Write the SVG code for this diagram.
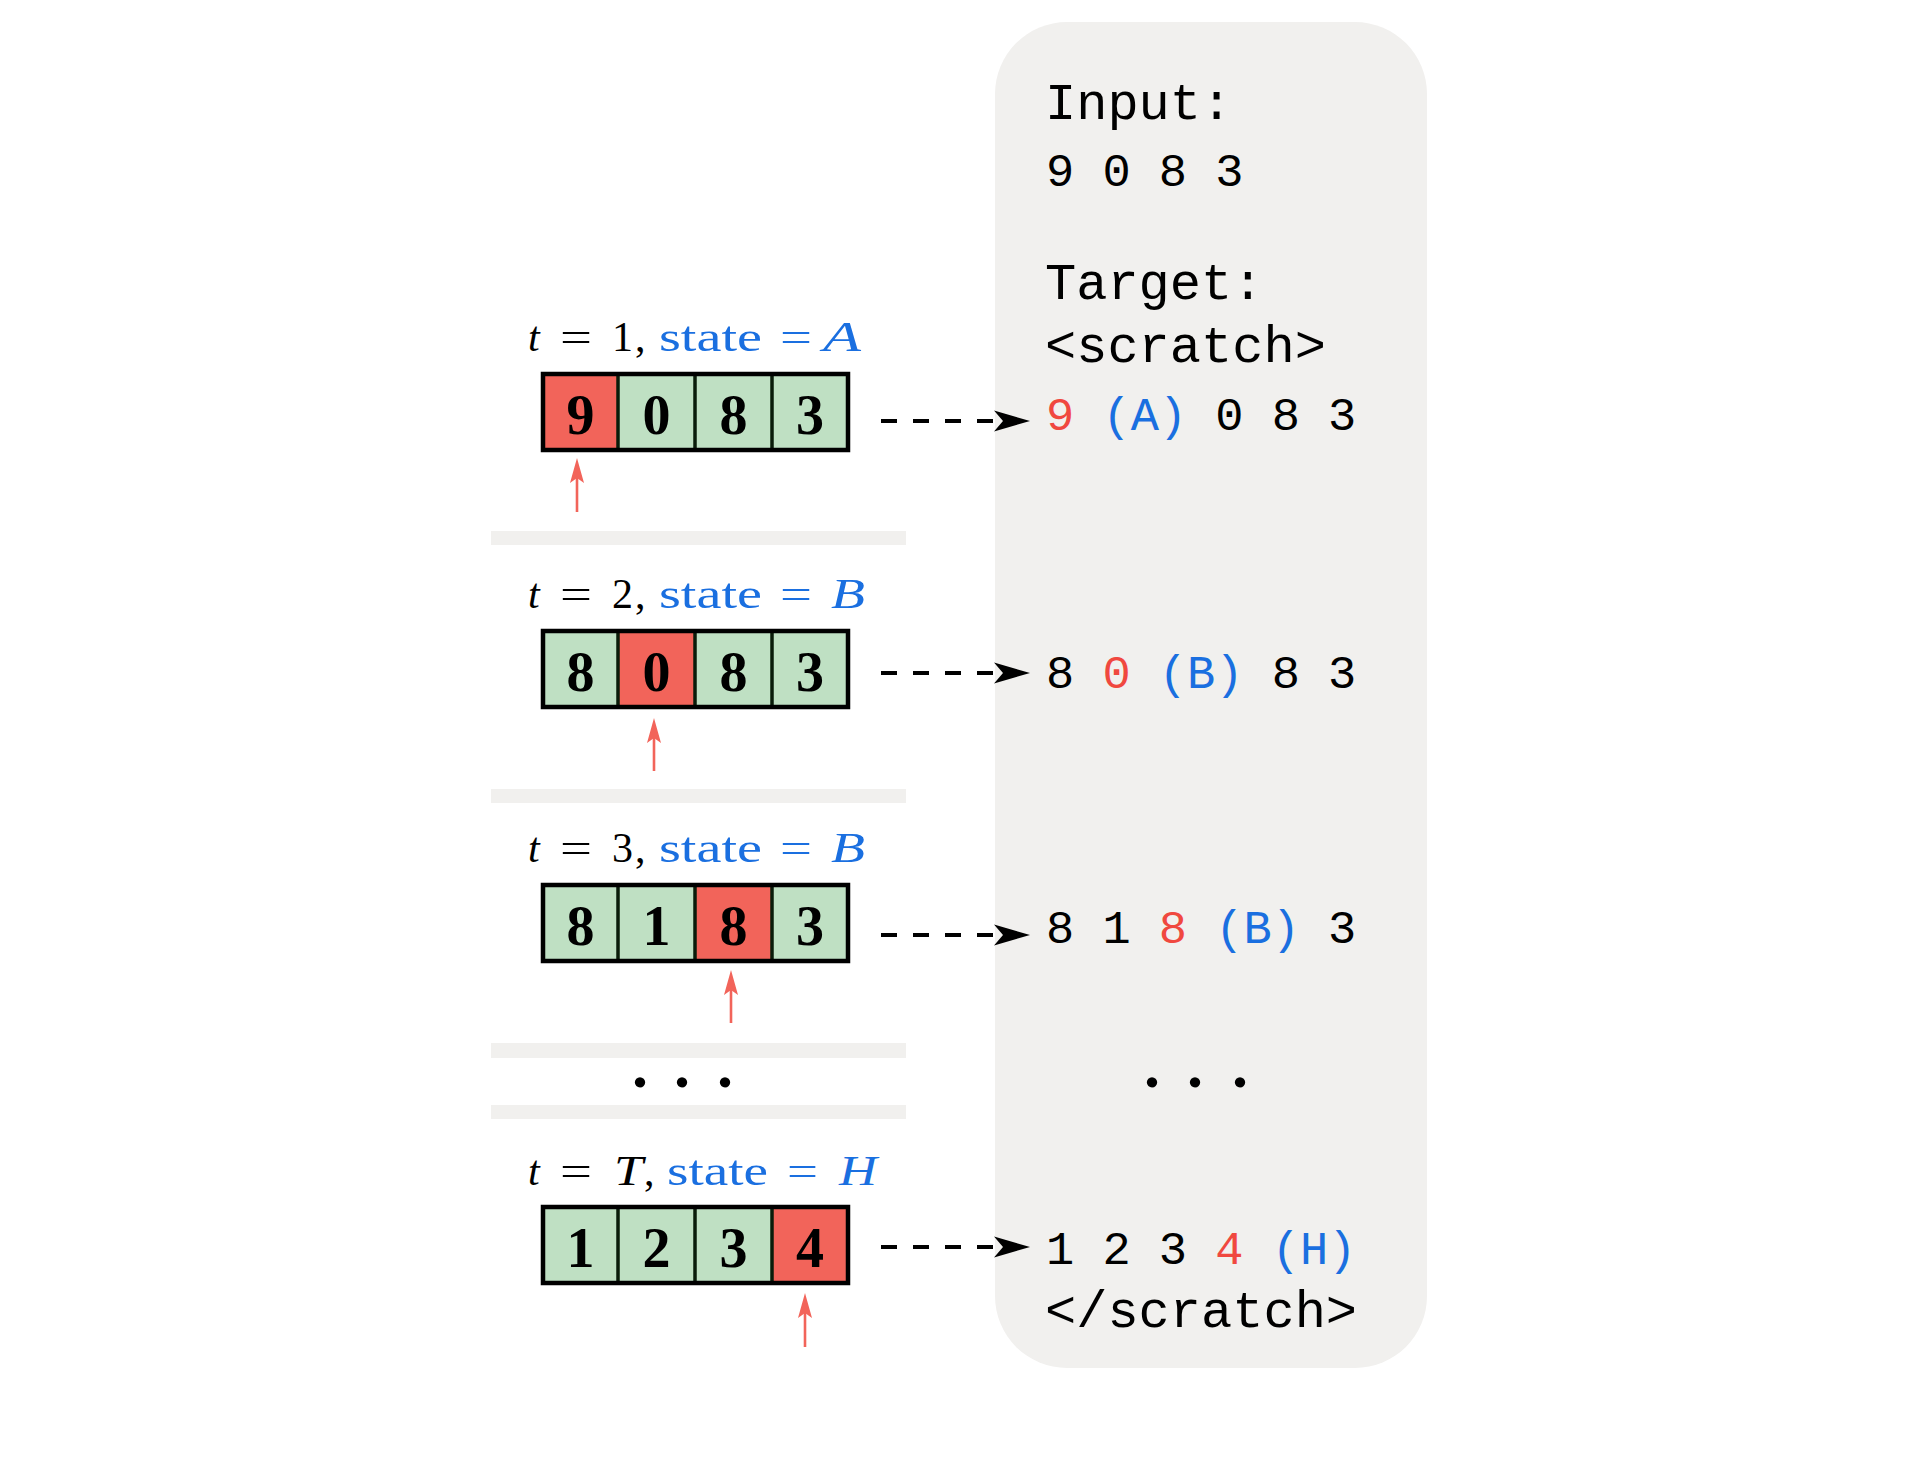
<svg xmlns="http://www.w3.org/2000/svg" width="1920" height="1468" viewBox="0 0 1920 1468">
  <style>
    .bg { fill: #ffffff; }
    .panel { fill: #f1f0ee; }
    .bar { fill: #f1f0ee; }
    .green { fill: #bfe0c3; }
    .red { fill: #f2645a; }
    .frame { fill: none; stroke: #000000; stroke-width: 4.5; }
    .div { stroke: #0a1c0a; stroke-width: 3.5; }
    .cell { font-family: "Liberation Serif", "DejaVu Serif", serif; font-weight: bold; font-size: 56px; fill: #000000; text-anchor: middle; }
    .lbl { font-family: "Liberation Serif", "DejaVu Serif", serif; font-size: 42px; fill: #000000; }
    .it { font-style: italic; }
    .blue { fill: #1a6fe0; }
    .mono { font-family: "Liberation Mono", "DejaVu Sans Mono", monospace; fill: #000000; }
    .head { font-size: 52px; }
    .row { font-size: 47px; }
    .tred { fill: #f0483f; }
    .tblue { fill: #1a6fe0; }
    .dash { stroke: #000000; stroke-width: 4; stroke-dasharray: 16 16; fill: none; }
    .ptr { stroke: #f2645a; stroke-width: 2.6; fill: none; }
    .dots { font-family: "Liberation Serif", "DejaVu Serif", serif; font-weight: bold; font-size: 64px; fill: #000000; text-anchor: middle; }
  </style>
  <defs>
    <marker id="stealth" markerUnits="userSpaceOnUse" viewBox="0 -11 37 22" refX="3" refY="0" markerWidth="37" markerHeight="22" orient="auto">
      <path d="M0,-10.5 L36,0 L0,10.5 L9,0 Z" fill="#000000"/>
    </marker>
    <marker id="redtip" markerUnits="userSpaceOnUse" viewBox="0 -8 26 16" refX="5" refY="0" markerWidth="26" markerHeight="16" orient="auto">
      <path d="M0,-7 L25,0 L0,7 L5,0 Z" fill="#f2645a"/>
    </marker>
  </defs>

  <rect class="bg" x="0" y="0" width="1920" height="1468"/>

  <g id="scratchpad">
    <rect class="panel" x="995" y="22" width="432" height="1346" rx="72" ry="72"/>
    <text class="mono head" x="1045" y="119">Input:</text>
    <text class="mono row" x="1046" y="186">9 0 8 3</text>
    <text class="mono head" x="1045" y="299">Target:</text>
    <text class="mono head" x="1045" y="362">&lt;scratch&gt;</text>
    <text class="mono row" x="1046" y="430"><tspan class="tred">9</tspan> <tspan class="tblue">(A)</tspan> 0 8 3</text>
    <text class="mono row" x="1046" y="688">8 <tspan class="tred">0</tspan> <tspan class="tblue">(B)</tspan> 8 3</text>
    <text class="mono row" x="1046" y="943">8 1 <tspan class="tred">8</tspan> <tspan class="tblue">(B)</tspan> 3</text>
    <text class="dots" y="1087"><tspan x="1152">.</tspan><tspan x="1195">.</tspan><tspan x="1240">.</tspan></text>
    <text class="mono row" x="1046" y="1264">1 2 3 <tspan class="tred">4</tspan> <tspan class="tblue">(H)</tspan></text>
    <text class="mono head" x="1045" y="1327">&lt;/scratch&gt;</text>
  </g>

  <g id="separators">
    <rect class="bar" x="491" y="531" width="415" height="14"/>
    <rect class="bar" x="491" y="789" width="415" height="14"/>
    <rect class="bar" x="491" y="1043" width="415" height="15"/>
    <rect class="bar" x="491" y="1105" width="415" height="14"/>
    <text class="dots" y="1087"><tspan x="640">.</tspan><tspan x="682">.</tspan><tspan x="725">.</tspan></text>
  </g>

  <g id="step1">
    <text class="lbl" y="351"><tspan class="it" x="528">t</tspan><tspan x="560" textLength="32" lengthAdjust="spacingAndGlyphs">=</tspan><tspan x="612">1</tspan><tspan x="635">,</tspan><tspan class="blue" x="659" textLength="103" lengthAdjust="spacingAndGlyphs">state</tspan><tspan class="blue" x="780" textLength="32" lengthAdjust="spacingAndGlyphs">=</tspan><tspan class="blue it" x="823" textLength="38" lengthAdjust="spacingAndGlyphs">A</tspan></text>
    <rect class="red" x="543" y="374" width="75" height="76"/>
    <rect class="green" x="618" y="374" width="230" height="76"/>
    <line class="div" x1="618" y1="374" x2="618" y2="450"/>
    <line class="div" x1="695" y1="374" x2="695" y2="450"/>
    <line class="div" x1="772" y1="374" x2="772" y2="450"/>
    <rect class="frame" x="543" y="374" width="305" height="76"/>
    <text class="cell" y="434"><tspan x="580.5">9</tspan><tspan x="656.5">0</tspan><tspan x="733.5">8</tspan><tspan x="810">3</tspan></text>
  </g>

  <g id="step2">
    <text class="lbl" y="608"><tspan class="it" x="528">t</tspan><tspan x="560" textLength="32" lengthAdjust="spacingAndGlyphs">=</tspan><tspan x="612">2</tspan><tspan x="635">,</tspan><tspan class="blue" x="659" textLength="103" lengthAdjust="spacingAndGlyphs">state</tspan><tspan class="blue" x="780" textLength="32" lengthAdjust="spacingAndGlyphs">=</tspan><tspan class="blue it" x="831" textLength="34" lengthAdjust="spacingAndGlyphs">B</tspan></text>
    <rect class="green" x="543" y="631" width="75" height="76"/>
    <rect class="red" x="618" y="631" width="77" height="76"/>
    <rect class="green" x="695" y="631" width="153" height="76"/>
    <line class="div" x1="618" y1="631" x2="618" y2="707"/>
    <line class="div" x1="695" y1="631" x2="695" y2="707"/>
    <line class="div" x1="772" y1="631" x2="772" y2="707"/>
    <rect class="frame" x="543" y="631" width="305" height="76"/>
    <text class="cell" y="691"><tspan x="580.5">8</tspan><tspan x="656.5">0</tspan><tspan x="733.5">8</tspan><tspan x="810">3</tspan></text>
  </g>

  <g id="step3">
    <text class="lbl" y="862"><tspan class="it" x="528">t</tspan><tspan x="560" textLength="32" lengthAdjust="spacingAndGlyphs">=</tspan><tspan x="612">3</tspan><tspan x="635">,</tspan><tspan class="blue" x="659" textLength="103" lengthAdjust="spacingAndGlyphs">state</tspan><tspan class="blue" x="780" textLength="32" lengthAdjust="spacingAndGlyphs">=</tspan><tspan class="blue it" x="831" textLength="34" lengthAdjust="spacingAndGlyphs">B</tspan></text>
    <rect class="green" x="543" y="885" width="152" height="76"/>
    <rect class="red" x="695" y="885" width="77" height="76"/>
    <rect class="green" x="772" y="885" width="76" height="76"/>
    <line class="div" x1="618" y1="885" x2="618" y2="961"/>
    <line class="div" x1="695" y1="885" x2="695" y2="961"/>
    <line class="div" x1="772" y1="885" x2="772" y2="961"/>
    <rect class="frame" x="543" y="885" width="305" height="76"/>
    <text class="cell" y="945"><tspan x="580.5">8</tspan><tspan x="656.5">1</tspan><tspan x="733.5">8</tspan><tspan x="810">3</tspan></text>
  </g>

  <g id="stepT">
    <text class="lbl" y="1185"><tspan class="it" x="528">t</tspan><tspan x="560" textLength="32" lengthAdjust="spacingAndGlyphs">=</tspan><tspan class="it" x="614" textLength="29" lengthAdjust="spacingAndGlyphs">T</tspan><tspan x="644">,</tspan><tspan class="blue" x="667" textLength="101" lengthAdjust="spacingAndGlyphs">state</tspan><tspan class="blue" x="787" textLength="31" lengthAdjust="spacingAndGlyphs">=</tspan><tspan class="blue it" x="839" textLength="38" lengthAdjust="spacingAndGlyphs">H</tspan></text>
    <rect class="green" x="543" y="1207" width="229" height="76"/>
    <rect class="red" x="772" y="1207" width="76" height="76"/>
    <line class="div" x1="618" y1="1207" x2="618" y2="1283"/>
    <line class="div" x1="695" y1="1207" x2="695" y2="1283"/>
    <line class="div" x1="772" y1="1207" x2="772" y2="1283"/>
    <rect class="frame" x="543" y="1207" width="305" height="76"/>
    <text class="cell" y="1267"><tspan x="580.5">1</tspan><tspan x="656.5">2</tspan><tspan x="733.5">3</tspan><tspan x="810">4</tspan></text>
  </g>

  <g id="connectors">
    <line class="dash" x1="881" y1="421" x2="997" y2="421" marker-end="url(#stealth)"/>
    <line class="dash" x1="881" y1="673" x2="997" y2="673" marker-end="url(#stealth)"/>
    <line class="dash" x1="881" y1="935" x2="997" y2="935" marker-end="url(#stealth)"/>
    <line class="dash" x1="881" y1="1247" x2="997" y2="1247" marker-end="url(#stealth)"/>
    <line class="ptr" x1="577" y1="512" x2="577" y2="478" marker-end="url(#redtip)"/>
    <line class="ptr" x1="654" y1="771" x2="654" y2="738" marker-end="url(#redtip)"/>
    <line class="ptr" x1="731" y1="1023" x2="731" y2="990" marker-end="url(#redtip)"/>
    <line class="ptr" x1="805" y1="1347" x2="805" y2="1313" marker-end="url(#redtip)"/>
  </g>
</svg>
